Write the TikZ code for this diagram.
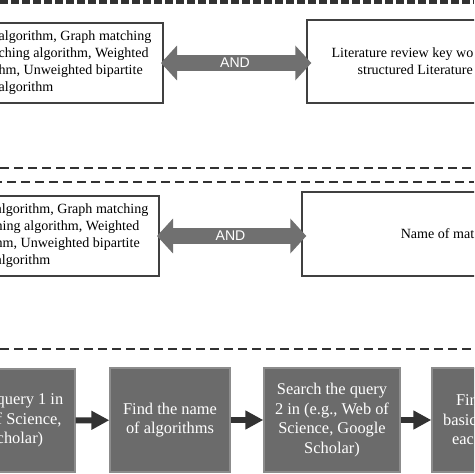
\documentclass[tikz,border=0pt]{standalone}
\usepackage{fontspec}
\setmainfont{Liberation Serif}
\setsansfont{Liberation Sans}
\usetikzlibrary{arrows.meta}

\definecolor{boxfill}{RGB}{107,107,107}
\definecolor{boxedge}{RGB}{140,140,140}
\definecolor{andgray}{RGB}{112,112,112}
\definecolor{linedark}{RGB}{50,50,50}

\begin{document}
\begin{tikzpicture}[
    x=0.03cm, y=-0.03cm,
    box/.style={
      draw=black!75, line width=0.04cm, fill=white, inner sep=0pt,
      align=left, font=\fontsize{12}{14.5}\selectfont
    },
    grybox/.style={
      draw=boxedge, line width=0.04cm, fill=boxfill, text=white,
      inner sep=0pt, align=center, font=\fontsize{14}{16.6}\selectfont
    },
    andarr/.style={
      draw=andgray, line width=0.48cm,
      {Triangle[width=1.02cm,length=0.48cm]}-{Triangle[width=1.02cm,length=0.48cm]},
      shorten <=-0.08cm, shorten >=-0.15cm
    },
    andlbl/.style={font=\sffamily\fontsize{12}{12}\selectfont, text=white},
    arr/.style={draw=linedark, line width=0.18cm,
      -{Triangle[width=0.54cm,length=0.54cm]}},
    sepline/.style={draw=linedark, line width=0.075cm,
      dash pattern=on 0.27cm off 0.15cm}
  ]
    \useasboundingbox (0,0) rectangle (474,474);
    \clip (0,0) rectangle (474,474);

    % separators
    \draw[draw=linedark, line width=0.12cm, dash pattern=on 0.225cm off 0.105cm] (0,2) -- (474,2);
    \draw[sepline] (0,168) -- (474,168);
    \draw[sepline, dash phase=0.2cm] (0,182) -- (474,182);
    \draw[sepline] (0,349) -- (474,349);

    % first search
    \node[box, minimum width=5.28cm, minimum height=2.4cm] (algkw) at (75,63)
      {algorithm, Graph matching\\ching algorithm, Weighted\\hm, Unweighted bipartite\\algorithm};
    \node[box, minimum width=5.73cm, minimum height=2.49cm] (litkw) at (402.5,61.5)
      {Literature review key wo\\\hspace*{0.78cm}structured Literature};
    \draw[andarr] (algkw.east) -- (algkw.east -| litkw.west)
      node[midway, andlbl] (and1) {AND};

    % second search
    \node[box, minimum width=5.22cm, minimum height=2.4cm] (algkw2) at (72,236)
      {algorithm, Graph matching\\hing algorithm, Weighted\\hm, Unweighted bipartite\\algorithm};
    \node[box, minimum width=8.13cm, minimum height=2.52cm] (matchname) at (437.5,234)
      {Name of mat};
    \draw[andarr] (algkw2.east) -- (algkw2.east -| matchname.west)
      node[midway, andlbl] (and2) {AND};

    % steps
    \node[grybox, align=left, minimum width=2.7cm, minimum height=3.09cm] (query1) at (30,420.5)
      {query 1 in\\f Science,\\cholar)};
    \node[grybox, minimum width=3.6cm, minimum height=3.12cm] (findname) at (170,420)
      {Find the name\\of algorithms};
    \node[grybox, minimum width=4.08cm, minimum height=3.12cm] (query2) at (332,420)
      {Search the query\\2 in (e.g., Web of\\Science, Google\\Scholar)};
    \node[grybox, align=left, minimum width=1.71cm, minimum height=3.12cm] (findbasic) at (460.5,420)
      {\hspace*{0.39cm}Fin\\basic\\\hspace*{0.27cm}eac};

    \draw[arr] (query1) -- (findname);
    \draw[arr] (findname) -- (query2);
    \draw[arr] (query2) -- (findbasic);
\end{tikzpicture}
\end{document}
